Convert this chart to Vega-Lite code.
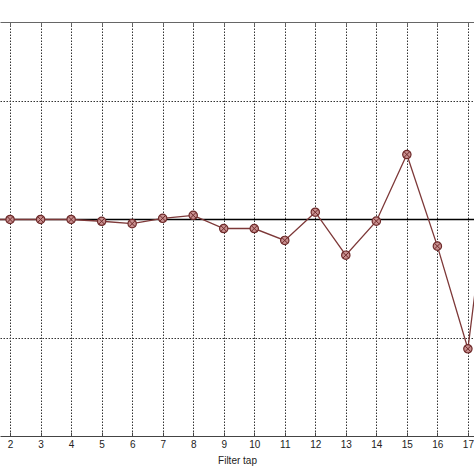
{
  "$schema": "https://vega.github.io/schema/vega-lite/v6.json",
  "width": 474,
  "height": 414,
  "autosize": {"type": "none"},
  "padding": {"top": 22, "bottom": 38, "left": 0, "right": 0},
  "background": "white",
  "config": {
    "view": {"stroke": null},
    "font": "Liberation Sans"
  },
  "datasets": {
    "taps": [
      {"tap": 1, "value": 0},
      {"tap": 2, "value": 0},
      {"tap": 3, "value": 0},
      {"tap": 4, "value": 0},
      {"tap": 5, "value": -0.015},
      {"tap": 6, "value": -0.035},
      {"tap": 7, "value": 0.01},
      {"tap": 8, "value": 0.035},
      {"tap": 9, "value": -0.076},
      {"tap": 10, "value": -0.076},
      {"tap": 11, "value": -0.176},
      {"tap": 12, "value": 0.061},
      {"tap": 13, "value": -0.3},
      {"tap": 14, "value": -0.014},
      {"tap": 15, "value": 0.546},
      {"tap": 16, "value": -0.224},
      {"tap": 17, "value": -1.087},
      {"tap": 18, "value": 0.95}
    ],
    "zero": [{"y": 0}]
  },
  "resolve": {"axis": {"x": "independent"}},
  "layer": [
    {
      "data": {"name": "zero"},
      "mark": {"type": "rule", "color": "black", "strokeWidth": 1.6},
      "encoding": {
        "y": {"field": "y", "type": "quantitative", "scale": {"domain": [-1.82, 1.66], "nice": false, "zero": false},
          "axis": {"labels": false, "ticks": false, "domain": false, "grid": true, "values": [-1, 0, 1], "gridDash": [1.5, 1.5], "gridColor": "#333", "gridWidth": 1, "title": null}}
      }
    },
    {
      "data": {"name": "taps"},
      "mark": {"type": "line", "color": "#7d3838", "strokeWidth": 1.3, "clip": true},
      "encoding": {
        "x": {"field": "tap", "type": "quantitative", "scale": {"domain": [1.67, 17.2], "nice": false, "zero": false},
          "axis": {"values": [2,3,4,5,6,7,8,9,10,11,12,13,14,15,16,17], "labelOverlap": false, "labelFlush": false, "title": "Filter tap", "titleFontSize": 10, "titleFontWeight": "normal", "titleColor": "#222", "titlePadding": 6,
            "labelFontSize": 10, "labelColor": "#222", "labelPadding": 7, "tickSize": -4, "tickColor": "#444", "domainColor": "#444",
            "grid": true, "gridDash": [1.5, 1.5], "gridColor": "#333", "gridWidth": 1}},
        "y": {"field": "value", "type": "quantitative", "scale": {"domain": [-1.82, 1.66], "nice": false, "zero": false}}
      }
    },
    {
      "data": {"name": "taps"},
      "mark": {"type": "point", "shape": "circle", "size": 70, "filled": true, "fill": "#c99090", "stroke": "#6e2a2a", "strokeWidth": 1.2, "opacity": 1, "clip": true},
      "encoding": {
        "x": {"field": "tap", "type": "quantitative",
          "axis": {"orient": "top", "labels": false, "ticks": true, "tickSize": -4, "tickColor": "#666", "values": [2,3,4,5,6,7,8,9,10,11,12,13,14,15,16,17], "domain": true, "domainColor": "#666", "grid": false, "title": null}},
        "y": {"field": "value", "type": "quantitative"}
      }
    },
    {
      "data": {"name": "taps"},
      "mark": {"type": "point", "shape": "M-0.7,-0.7L0.7,0.7M-0.7,0.7L0.7,-0.7", "size": 70, "filled": false, "stroke": "#6e2a2a", "strokeWidth": 1, "opacity": 1, "clip": true},
      "encoding": {
        "x": {"field": "tap", "type": "quantitative", "axis": null},
        "y": {"field": "value", "type": "quantitative"}
      }
    }
  ]
}
